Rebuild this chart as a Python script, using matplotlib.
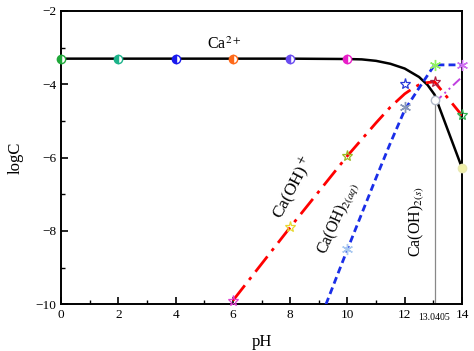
import matplotlib
matplotlib.use("Agg")
import matplotlib.pyplot as plt

# pH / logC data
ph_ca = [0, 2, 4, 6, 8, 10, 10.5, 11, 11.5, 12, 12.5, 12.8, 13.0405, 14]
logc_ca = [-3.3, -3.3, -3.3, -3.3, -3.3, -3.31, -3.32, -3.36, -3.44, -3.57, -3.8, -4.02, -4.28, -6.28]

ph_caoh = [6, 8, 10, 11, 11.5, 12, 12.3, 12.6, 13.0405, 14]
logc_caoh = [-9.9, -7.9, -5.95, -5.05, -4.62, -4.26, -4.1, -3.97, -3.93, -4.85]

ph_aq = [9.25, 10, 11, 11.5, 12, 12.5, 12.8, 13.0405, 14]
logc_aq = [-10, -8.5, -6.55, -5.6, -4.7, -4.1, -3.75, -3.47, -3.47]

ph_s = [13.0405, 14]
logc_s = [-4.5, -3.8]

ph_sat = 13.0405

# marker points on each curve
ca_mk_ph = [0, 2, 4, 6, 8, 10]
ca_mk_col = ["#1fa83a", "#1cb38a", "#1a1aee", "#ff6a1a", "#6a4cf0", "#e81ec8"]
caoh_mk_ph = [6, 8, 10, 12, 13.0405, 14]
caoh_mk_logc = [-9.9, -7.9, -5.95, -4.0, -3.93, -4.85]
caoh_mk_col = ["#e040d0", "#e8d830", "#9ab820", "#2a3ad8", "#b02040", "#30b050"]
aq_mk_ph = [10, 12, 13.0405, 14]
aq_mk_logc = [-8.5, -4.62, -3.47, -3.47]
aq_mk_col = ["#a8c8f0", "#8898b8", "#90f060", "#d070f0"]

plt.rcParams['font.family'] = ['Liberation Serif', 'DejaVu Serif']
plt.rcParams['mathtext.fontset'] = 'stix'

fig = plt.figure(figsize=(4.74, 3.51), dpi=100)
ax = fig.add_axes([0.1287, 0.133, 0.846, 0.8357])

ax.plot(ph_ca, logc_ca, color="black", lw=1.8, zorder=3)
ax.plot(ph_caoh, logc_caoh, color="red", lw=2.0, ls=(0, (7, 2.5, 1.2, 2.5)), zorder=3)
ax.plot(ph_aq, logc_aq, color="#1a2ee8", lw=2.0, ls=(0, (2.5, 1.5)), zorder=3)
ax.plot(ph_s, logc_s, color="#c040e0", lw=1.4, ls=(0, (5, 2, 1, 2, 1, 2)), zorder=3)
ax.plot([ph_sat, ph_sat], [-10, -4.3], color="#888888", lw=0.9, zorder=2)

for p, c in zip(ca_mk_ph, ca_mk_col):
    ax.plot(p, -3.3, marker="o", ms=6, color=c, fillstyle="left",
            markerfacecoloralt="white", mec=c, mew=1, zorder=5, clip_on=False)
ax.plot(14, -6.28, marker="o", ms=6, color="#f0f0a8", mec="#e8e8b0", zorder=5, clip_on=False)
ax.plot(ph_sat, -4.42, marker="o", ms=6, mfc="white", mec="#b0b8c8", mew=1, zorder=5)

for p, v, c in zip(caoh_mk_ph, caoh_mk_logc, caoh_mk_col):
    ax.plot(p, v, marker="*", ms=8, mfc="none", mec=c, mew=0.9, zorder=5, clip_on=False)
for p, v, c in zip(aq_mk_ph, aq_mk_logc, aq_mk_col):
    ax.plot(p, v, marker=(6, 2, 0), ms=8, color=c, mew=1.0, zorder=5, clip_on=False)

ax.set_xlim(0, 14)
ax.set_ylim(-10, -2)
ax.set_xticks([0, 2, 4, 6, 8, 10, 12, 14])
ax.set_xticks([1, 3, 5, 7, 9, 11, 13], minor=True)
ax.set_yticks([-10, -8, -6, -4, -2])
ax.set_yticks([-9, -7, -5, -3], minor=True)
ax.tick_params(axis="both", which="major", direction="in", length=5, width=1.2, labelsize=9.5)
ax.tick_params(axis="both", which="minor", direction="in", length=3, width=1.0)
ax.text(ph_sat, -10.25, "13.0405", ha="center", va="top", fontsize=7)
for s in ax.spines.values():
    s.set_linewidth(1.4)

ax.set_xlabel("pH", fontsize=12, labelpad=9)
ax.set_ylabel("logC", fontsize=12, labelpad=8)

ax.text(5.7, -2.92, r"Ca$^{2+}$", fontsize=11.5, ha="center", va="center")
ax.text(8.1, -6.82, r"Ca(OH)$^+$", fontsize=12.5, ha="center", va="center", rotation=62)
ax.text(9.7, -7.65, r"Ca(OH)$_{2(aq)}$", fontsize=11.5, ha="center", va="center", rotation=66)
ax.text(12.4, -7.75, r"Ca(OH)$_{2(s)}$", fontsize=11.5, ha="center", va="center", rotation=90)

fig.savefig("out.png", dpi=100)
